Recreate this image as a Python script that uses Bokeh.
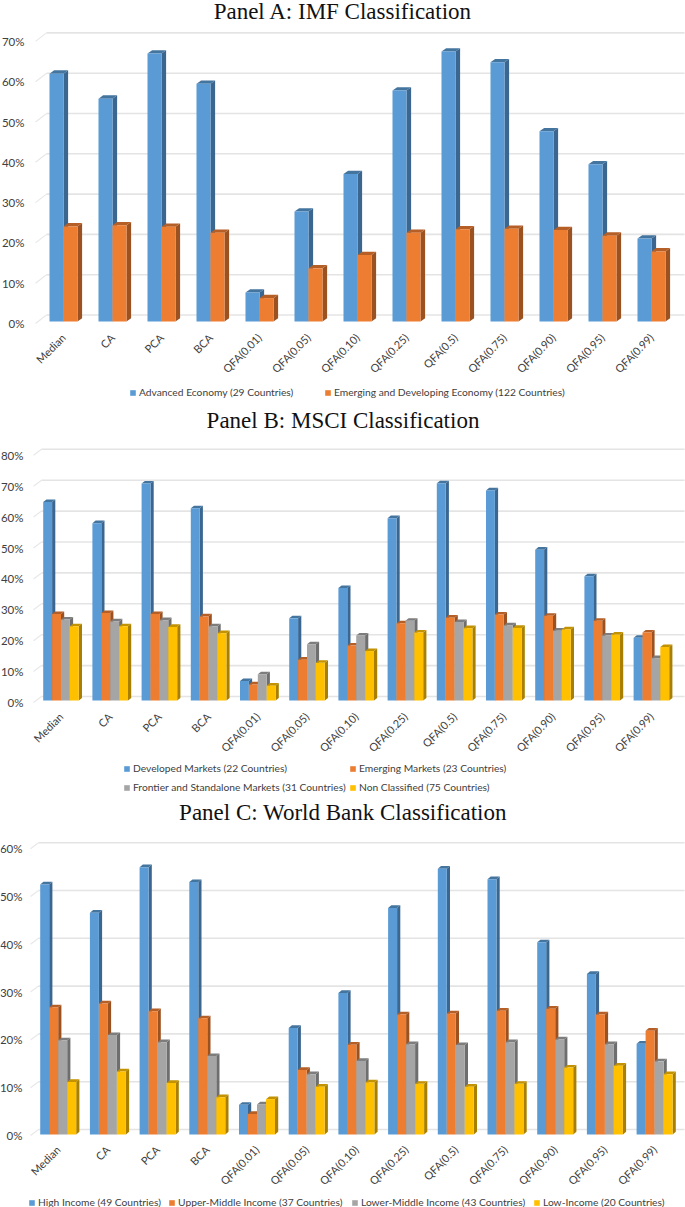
from bokeh.embed import file_html
from bokeh.resources import INLINE
from bokeh.plotting import figure
from bokeh.layouts import column
from bokeh.models import (Range1d, FixedTicker, Legend, LegendItem, Label)

CATEGORIES = ["Median", "CA", "PCA", "BCA", "QFA(0.01)", "QFA(0.05)", "QFA(0.10)",
              "QFA(0.25)", "QFA(0.5)", "QFA(0.75)", "QFA(0.90)", "QFA(0.95)", "QFA(0.99)"]

A_ADVANCED = [61.5, 55.3, 66.5, 59.0, 7.2, 27.3, 36.6, 57.3, 67.0, 64.3, 47.2, 39.0, 20.6]
A_EMERGING = [23.6, 23.9, 23.5, 22.0, 5.8, 13.2, 16.5, 22.0, 22.9, 23.0, 22.7, 21.3, 17.4]

B_DEVELOPED = [64.2, 57.4, 70.2, 62.2, 6.3, 26.6, 36.4, 59.0, 70.3, 68.0, 48.8, 40.2, 20.3]
B_EMERGING = [28.0, 28.3, 28.0, 27.2, 5.2, 13.2, 17.8, 25.0, 26.8, 27.8, 27.4, 25.8, 22.0]
B_FRONTIER = [26.2, 25.6, 26.0, 24.0, 8.5, 18.2, 21.0, 25.8, 25.4, 24.3, 22.6, 21.0, 13.7]
B_NONCLASS = [24.0, 24.0, 23.8, 21.8, 4.8, 12.2, 16.0, 22.0, 23.4, 23.5, 23.0, 21.3, 17.3]

C_HIGH = [52.3, 46.4, 55.9, 52.8, 6.2, 22.3, 29.6, 47.4, 55.6, 53.4, 40.2, 33.6, 19.0]
C_UPPER = [26.6, 27.4, 25.8, 24.3, 4.3, 13.5, 18.8, 25.1, 25.3, 25.9, 26.3, 25.1, 21.7]
C_LOWER = [19.7, 20.8, 19.3, 16.4, 6.3, 12.6, 15.4, 18.9, 18.7, 19.3, 19.9, 18.9, 15.3]
C_LOW = [11.0, 13.2, 10.8, 7.8, 7.4, 10.0, 10.9, 10.6, 10.0, 10.6, 14.0, 14.4, 12.6]

A_TICKS = [0, 10, 20, 30, 40, 50, 60, 70]
B_TICKS = [0, 10, 20, 30, 40, 50, 60, 70, 80]
C_TICKS = [0, 10, 20, 30, 40, 50, 60]

A_NAMES = ["Advanced Economy (29 Countries)", "Emerging and Developing Economy (122 Countries)"]
B_NAMES = ["Developed Markets (22 Countries)", "Emerging Markets (23 Countries)",
           "Frontier and Standalone Markets (31 Countries)", "Non Classified (75 Countries)"]
C_NAMES = ["High Income (49 Countries)", "Upper-Middle Income (37 Countries)",
           "Lower-Middle Income (43 Countries)", "Low-Income (20 Countries)"]

FRONT = ["#5B9BD5", "#ED7D31", "#A5A5A5", "#FFC000"]
SIDE = ["#3A6690", "#9C5220", "#6E6E6E", "#A87F00"]
TOP = ["#44759F", "#B55F26", "#7D7D7D", "#C29200"]
FONT = "Lato"
W = 685


def panel(title, title_base, series, names, ticks, fig_h, bottom, py, c0, sp, bw, plane,
          wall, depth, base, legend_pos, y_standoff):
    """All layout numbers are pixels inside this figure."""
    ymax = bottom / py
    ymin = -(fig_h - bottom) / py
    x0 = (0 - c0) / sp
    x1 = (W - c0) / sp
    p = figure(width=W, height=fig_h, output_backend="svg", toolbar_location=None,
               x_range=Range1d(x0, x1), y_range=Range1d(ymin, ymax),
               min_border_left=0, min_border_right=0, min_border_top=0,
               min_border_bottom=0, outline_line_color=None)
    p.grid.visible = False
    ux, uy = 1 / sp, 1 / py
    xp = (plane - c0) / sp

    wx, wy = wall[0] * ux, wall[1] * uy
    p.segment(x0=[xp] * len(ticks), y0=ticks, x1=[xp + wx] * len(ticks),
              y1=[t + wy for t in ticks], line_color="#E8E8E8", line_width=1.2)
    p.segment(x0=[xp + wx] * len(ticks), y0=[t + wy for t in ticks],
              x1=[x1 - 1 * ux] * len(ticks), y1=[t + wy for t in ticks],
              line_color="#E4E4E4", line_width=1.6)

    n = len(series)
    w = bw * ux
    by = base * uy
    dx, dy = depth[0] * ux, depth[1] * uy
    bars = []
    for k, vals in enumerate(series):
        lefts = [i - n * w / 2 + k * w for i in range(len(vals))]
        rights = [l + w for l in lefts]
        tops = [v + by for v in vals]
        p.patches(xs=[[r, r + dx, r + dx, r] for r in rights],
                  ys=[[by, by + dy, t + dy, t] for t in tops],
                  fill_color=SIDE[k], line_color=None)
        p.patches(xs=[[l, r, r + dx, l + dx] for l, r in zip(lefts, rights)],
                  ys=[[t, t, t + dy, t + dy] for t in tops],
                  fill_color=TOP[k], line_color=None)
        bars.append(p.vbar(x=[l + w / 2 for l in lefts], width=w, bottom=by, top=tops,
                           fill_color=FRONT[k], line_color=None))

    p.xaxis.fixed_location = 0
    p.xaxis.ticker = FixedTicker(ticks=list(range(len(CATEGORIES))))
    p.xaxis.major_label_overrides = {i: c for i, c in enumerate(CATEGORIES)}
    p.xaxis.major_label_orientation = 0.785
    p.xaxis.major_label_standoff = 12
    p.xaxis.major_tick_out = 0
    p.xaxis.major_tick_in = 0
    p.xaxis.axis_line_color = None
    p.xaxis.major_tick_line_color = None
    p.xaxis.minor_tick_line_color = None
    p.xaxis.major_label_text_font = FONT
    p.xaxis.major_label_text_font_size = "11px"
    p.xaxis.major_label_text_color = "#404040"

    p.yaxis.fixed_location = xp
    p.yaxis.ticker = FixedTicker(ticks=ticks)
    p.yaxis.major_label_overrides = {t: f"{t}%" for t in ticks}
    p.yaxis.major_tick_out = 0
    p.yaxis.major_tick_in = 0
    p.yaxis.axis_line_color = None
    p.yaxis.major_tick_line_color = None
    p.yaxis.minor_tick_line_color = None
    p.yaxis.major_label_standoff = y_standoff
    p.yaxis.major_label_text_font = FONT
    p.yaxis.major_label_text_font_size = "11.5px"
    p.yaxis.major_label_text_color = "#404040"

    for r, name, (lx, ly) in zip(bars, names, legend_pos):
        lg = Legend(items=[LegendItem(label=name, renderers=[r])],
                    location=(lx, fig_h - ly - 6), margin=0, padding=0,
                    border_line_color=None, background_fill_alpha=0,
                    glyph_width=7, glyph_height=7, label_standoff=3, label_height=12,
                    label_text_font=FONT, label_text_font_size="10.25px",
                    label_text_color="#404040")
        p.add_layout(lg, "center")

    p.add_layout(Label(x=W / 2, y=fig_h - title_base, x_units="screen", y_units="screen",
                       text=title, text_align="center", text_baseline="alphabetic",
                       text_font="Liberation Serif", text_font_size="23px",
                       text_color="#111111"))
    return p


pa = panel("Panel A: IMF Classification", 11, [A_ADVANCED, A_EMERGING], A_NAMES, A_TICKS,
           408, 323, 4.03, 63, 49, 14, 35, (11, 8.5), (4.6, 3.3), 2,
           [(129, 392), (324, 392)], 11)
pb = panel("Panel B: MSCI Classification", 12, [B_DEVELOPED, B_EMERGING, B_FRONTIER, B_NONCLASS],
           B_NAMES, B_TICKS, 392, 294, 3.09, 60.5, 49.2, 8.9, 33, (8, 6), (3.2, 2.6), 2,
           [(123, 360), (349, 360), (123, 379), (349, 379)], 10)
pc = panel("Panel C: World Bank Classification", 12, [C_HIGH, C_UPPER, C_LOWER, C_LOW],
           C_NAMES, C_TICKS, 407, 335, 4.78, 57.7, 49.7, 9, 30, (8, 6), (3.2, 2.7), 1,
           [(28, 402), (168, 402), (351, 402), (533, 402)], 8)

page = column(pa, pb, pc, spacing=0)
open("out.html", "w").write(file_html(page, INLINE))
